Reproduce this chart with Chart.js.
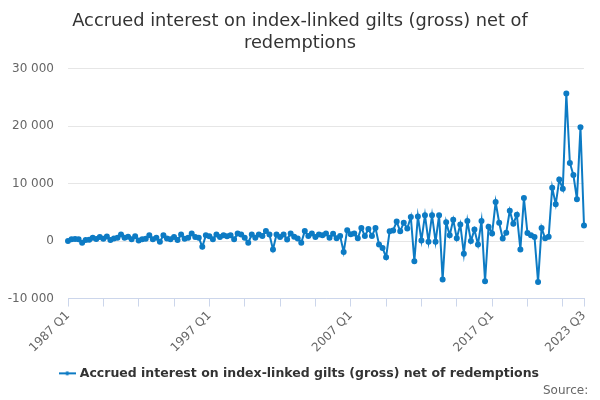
<!DOCTYPE html>
<html>
<head>
<meta charset="utf-8">
<script src="https://cdn.jsdelivr.net/npm/chart.js@4"></script>
<style>
  html, body { margin: 0; padding: 0; background: #fff; }
  #wrap { width: 600px; height: 400px; position: relative; }
</style>
</head>
<body>
<div id="wrap"><canvas id="chart"></canvas></div>
<script>
// Quarterly series, 1987 Q1 .. 2023 Q3 (GBP million)
const firstYear = 1987;
const lastYear = 2023;
const lastQuarter = 3;
const shownTicks = ['1987 Q1', '1997 Q1', '2007 Q1', '2017 Q1', '2023 Q3'];
const seriesName = 'Accrued interest on index-linked gilts (gross) net of redemptions';

const values = [
  0, 300, 350, 300, -300, 200, 250, 600, 350, 700,
  400, 800, 200, 450, 600, 1150, 600, 750, 300, 850,
  100, 300, 400, 1000, 300, 600, -100, 1000, 450, 300,
  700, 200, 1150, 400, 600, 1300, 700, 600, -1000, 1000,
  850, 300, 1150, 700, 1000, 850, 1000, 300, 1300, 1150,
  580, -290, 1150, 580, 1150, 870, 1740, 1150, -1450, 1150,
  700, 1150, 290, 1330, 750, 460, -290, 1740, 870, 1330,
  700, 1150, 1000, 1330, 580, 1280, 500, 870, -1900, 1900,
  1200, 1300, 500, 2300, 900, 2100, 900, 2300, -600, -1200,
  -2800, 1700, 1850, 3400, 1700, 3200, 2200, 4200, -3500, 4300,
  100, 4500, -100, 4500, -100, 4500, -6700, 3300, 1000, 3700,
  500, 2900, -2200, 3500, 0, 2000, -600, 3500, -7000, 2500,
  1300, 6800, 3200, 450, 1450, 5300, 3000, 4600, -1450, 7500,
  1400, 1000, 700, -7100, 2300, 500, 750, 9300, 6400, 10700,
  9100, 25700, 13600, 11500, 7300, 19800, 2700
];

// build category labels "YYYY Qn"
const labels = [];
for (let y = firstYear; y <= lastYear; y++) {
  for (let q = 1; q <= 4; q++) {
    if (y === lastYear && q > lastQuarter) break;
    labels.push(`${y} Q${q}`);
  }
}

const lineColor = '#0d7bc4';

// legend symbol: short line with a dot in the middle
function legendSymbol() {
  const c = document.createElement('canvas');
  c.width = 17; c.height = 8;
  const g = c.getContext('2d');
  g.strokeStyle = lineColor;
  g.lineWidth = 2;
  g.beginPath(); g.moveTo(0, 4); g.lineTo(17, 4); g.stroke();
  g.fillStyle = lineColor;
  g.beginPath(); g.arc(8.5, 4, 2, 0, Math.PI * 2); g.fill();
  return c;
}

// thousands with a space: 30 000
function formatNum(v) {
  const s = Math.abs(v).toString().replace(/\B(?=(\d{3})+(?!\d))/g, ' ');
  return (v < 0 ? '-' : '') + s;
}

const ctx = document.getElementById('chart').getContext('2d');
new Chart(ctx, {
  type: 'line',
  data: {
    labels: labels,
    datasets: [{
      label: seriesName,
      data: values,
      borderColor: lineColor,
      backgroundColor: lineColor,
      borderWidth: 2,
      pointRadius: 2,
      pointHoverRadius: 3,
      pointStyle: 'circle',
      tension: 0
    }]
  },
  options: {
    responsive: true,
    maintainAspectRatio: false,
    animation: false,
    layout: { padding: { left: 8, right: 8, top: 5, bottom: 2 } },
    scales: {
      x: {
        type: 'category',
        offset: false,
        border: { display: true, color: '#ccd6eb', width: 1 },
        grid: {
          drawOnChartArea: false,
          drawTicks: true,
          tickLength: 8,
          color: (c) => (c.index % 10 === 0 || c.index === labels.length - 1) ? '#ccd6eb' : 'rgba(0,0,0,0)'
        },
        ticks: {
          autoSkip: false,
          maxRotation: 45,
          minRotation: 45,
          color: '#666666',
          font: { family: 'DejaVu Sans', size: 12 },
          padding: 2,
          callback: function (val, i) {
            const l = labels[i];
            return shownTicks.includes(l) ? l : '';
          }
        }
      },
      y: {
        min: -10000,
        max: 30000,
        border: { display: false },
        grid: { color: '#e6e6e6', drawTicks: false },
        afterFit: (scale) => { scale.width = 60; },
        ticks: {
          stepSize: 10000,
          padding: 14,
          color: '#666666',
          font: { family: 'DejaVu Sans', size: 12 },
          callback: (v) => formatNum(v)
        }
      },
      // empty right-hand gutter so the plot stops short of the edge
      gutter: {
        type: 'linear',
        position: 'right',
        grid: { display: false, drawTicks: false },
        border: { display: false },
        ticks: { display: false },
        afterFit: (scale) => { scale.width = 8; }
      }
    },
    plugins: {
      title: {
        display: true,
        text: ['Accrued interest on index-linked gilts (gross) net of', 'redemptions'],
        color: '#333333',
        font: { family: 'DejaVu Sans', size: 17.8, weight: 'normal' },
        padding: { top: 6, bottom: 15 },
        lineHeight: 1.17
      },
      subtitle: {
        display: true,
        position: 'bottom',
        align: 'end',
        text: 'Source:\u00a0',
        color: '#666666',
        font: { family: 'DejaVu Sans', size: 12 },
        padding: { top: -6, bottom: 0 }
      },
      legend: {
        display: true,
        position: 'bottom',
        title: {
          display: true,
          text: '',
          font: { size: 1, lineHeight: 1 },
          padding: { top: 5, bottom: 0 }
        },
        labels: {
          usePointStyle: true,
          pointStyle: legendSymbol(),
          color: '#333333',
          font: { family: 'DejaVu Sans', size: 12.5, weight: 'bold' },
          padding: 4
        }
      },
      tooltip: { enabled: false }
    }
  }
});
</script>
</body>
</html>
